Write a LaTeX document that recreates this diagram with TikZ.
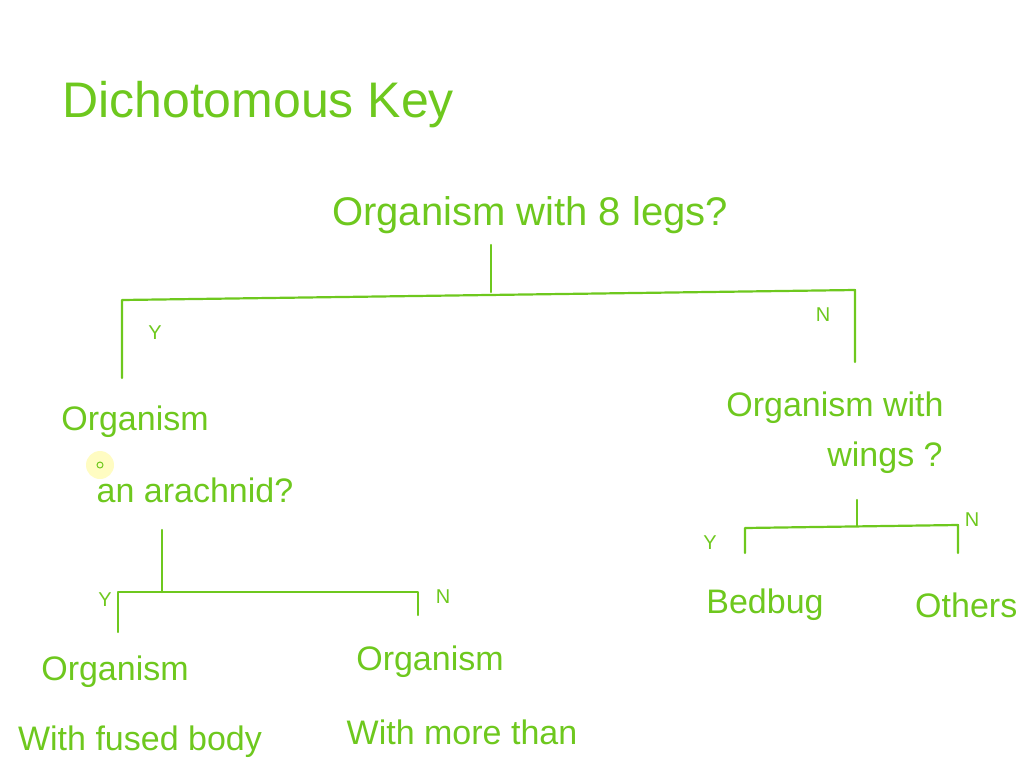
\documentclass[tikz,border=0pt]{standalone}
\usepackage{fontspec}
\setmainfont{Liberation Sans}
\definecolor{pen}{RGB}{110,200,30}
\begin{document}
\begin{tikzpicture}[x=1pt,y=-1pt,
  txt/.style={text=pen,inner sep=0pt,font=\fontsize{34}{40}\selectfont},
  sm/.style={text=pen,inner sep=0pt,font=\fontsize{20}{24}\selectfont},
  ln/.style={draw=pen,line width=2.2pt,line cap=round,line join=round}]
\useasboundingbox (0,0) rectangle (1024,768);
\fill[yellow!40,opacity=0.6] (100,465) circle (14);
\draw[pen,line width=1pt] (100,465) circle (3);
\node[txt,anchor=west,font=\fontsize{50}{58}\selectfont] (title) at (62,105) {Dichotomous Key};
\node[txt,font=\fontsize{40}{46}\selectfont] (root) at (530,215) {Organism with 8 legs?};
\coordinate (r1) at (491,245); \coordinate (r2) at (491,292);
\coordinate (hl) at (122,300); \coordinate (hr) at (855,290);
\coordinate (ld) at (122,378); \coordinate (rd) at (855,362);
\draw[ln] (r1)--(r2);
\draw[ln] (ld)--(hl)--(hr)--(rd);
\node[sm] (y1) at (155,333) {Y};
\node[sm] (n1) at (823,315) {N};
\node[txt] (a1) at (135,422) {Organism};
\node[txt] (a2) at (195,490) {an arachnid?};
\node[txt] (b1) at (835,408) {Organism with};
\node[txt] (b2) at (885,458) {wings ?};
\coordinate (s1) at (162,530); \coordinate (s2) at (162,592);
\coordinate (sl) at (118,632); \coordinate (slt) at (118,592);
\coordinate (srt) at (418,592); \coordinate (sr) at (418,615);
\draw[ln] (s1)--(s2);
\draw[ln] (sl)--(slt)--(srt)--(sr);
\node[sm] (y2) at (105,600) {Y};
\node[sm] (n2) at (443,597) {N};
\coordinate (t1) at (857,500); \coordinate (t2) at (857,526);
\coordinate (tl) at (745,553); \coordinate (tlt) at (745,528);
\coordinate (trt) at (958,525); \coordinate (tr) at (958,553);
\draw[ln] (t1)--(t2);
\draw[ln] (tl)--(tlt)--(trt)--(tr);
\node[sm] (y3) at (710,543) {Y};
\node[sm] (n3) at (972,520) {N};
\node[txt] (c1) at (765,605) {Bedbug};
\node[txt,anchor=west] (c2) at (915,605) {Others};
\node[txt] (d1) at (115,672) {Organism};
\node[txt] (d2) at (140,742) {With fused body};
\node[txt] (e1) at (430,662) {Organism};
\node[txt] (e2) at (462,732) {With more than};
\end{tikzpicture}
\end{document}
